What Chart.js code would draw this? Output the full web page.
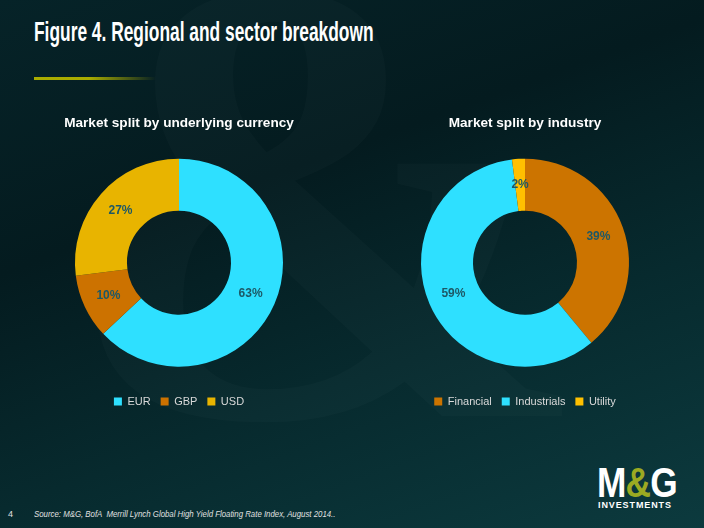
<!DOCTYPE html>
<html>
<head>
<meta charset="utf-8">
<script src="https://cdn.jsdelivr.net/npm/chart.js@4.4.0/dist/chart.umd.min.js"></script>
<style>
  html, body { margin: 0; padding: 0; }
  body { width: 704px; height: 528px; overflow: hidden; }
  #slide {
    position: relative; width: 704px; height: 528px; overflow: hidden;
    background: linear-gradient(160deg, #062328 0%, #041b1f 35%, #072a2e 65%, #0c3a3e 100%);
    font-family: "Liberation Sans", Arial, sans-serif;
  }
  #watermark {
    position: absolute; left: 60px; top: -120px;
    font: bold 640px "Liberation Serif", serif; color: #ffffff; opacity: 0.014;
    line-height: 1;
  }
  #title {
    position: absolute; left: 34px; top: 18px; margin: 0;
    font: bold 28px "Liberation Sans", Arial, sans-serif; line-height: 1;
    color: #ffffff; white-space: nowrap;
    transform: scaleX(0.62); transform-origin: 0 0;
  }
  #rule {
    position: absolute; left: 34px; top: 77px; width: 122px; height: 3px;
    background: linear-gradient(90deg, #a9ac00 0%, #a9ac00 45%, rgba(169,172,0,0) 100%);
  }
  .chartBox { position: absolute; top: 100px; width: 300px; height: 317px; }
  #boxLeft { left: 29px; }
  #boxRight { left: 375px; }
  #source {
    position: absolute; left: 34px; top: 509px; white-space: nowrap;
    font: italic 9px "Liberation Sans", Arial, sans-serif; color: #e0e0e0;
    transform: scaleX(0.87); transform-origin: 0 0;
  }
  #page {
    position: absolute; left: 8px; top: 509px;
    font: 9px "Liberation Sans", Arial, sans-serif; color: #e0e0e0;
  }
  #logo { position: absolute; left: 597px; top: 462px; width: 82px; color: #fff; }
  #logo .mg {
    font: bold 42px "Liberation Sans", Arial, sans-serif; line-height: 1; white-space: nowrap;
    transform: scaleX(0.84); transform-origin: 0 0; letter-spacing: -1px;
  }
  #logo .mg span { color: #9caa22; }
  #logo .inv {
    position: absolute; left: 1px; top: 38px; white-space: nowrap;
    font: bold 9px "Liberation Sans", Arial, sans-serif; letter-spacing: 0.9px;
  }
</style>
</head>
<body>
<div id="slide">
  <div id="watermark">&amp;</div>
  <h1 id="title">Figure 4. Regional and sector breakdown</h1>
  <div id="rule"></div>
  <div class="chartBox" id="boxLeft"><canvas id="currencyChart"></canvas></div>
  <div class="chartBox" id="boxRight"><canvas id="industryChart"></canvas></div>
  <div id="page">4</div>
  <div id="source">Source: M&amp;G, BofA &nbsp;Merrill Lynch Global High Yield Floating Rate Index, August 2014..</div>
  <div id="logo"><div class="mg">M<span>&amp;</span>G</div><div class="inv">INVESTMENTS</div></div>
</div>
<script>
const currencyLabels = ['EUR', 'GBP', 'USD'];
const currencyValues = [63, 10, 27];
const currencyColors = ['#2ee0ff', '#cc7200', '#e8b400'];

const industryLabels = ['Financial', 'Industrials', 'Utility'];
const industryValues = [39, 59, 2];
const industryColors = ['#cc7400', '#2ee0ff', '#ffc000'];

// percent labels in the middle of each ring segment
const ringLabels = {
    id: 'ringLabels',
    afterDatasetsDraw(chart) {
        const ctx = chart.ctx;
        const meta = chart.getDatasetMeta(0);
        const values = chart.data.datasets[0].data;
        ctx.save();
        ctx.font = 'bold 12px "Liberation Sans", Arial, sans-serif';
        ctx.fillStyle = '#1d5866';
        ctx.textAlign = 'center';
        ctx.textBaseline = 'middle';
        meta.data.forEach((arc, i) => {
            const p = arc.tooltipPosition();
            ctx.fillText(values[i] + '%', p.x, p.y);
        });
        ctx.restore();
    }
};

function makeDonut(id, titleText, labels, values, colors) {
    const ctx = document.getElementById(id).getContext('2d');
    return new Chart(ctx, {
        type: 'doughnut',
        data: {
            labels: labels,
            datasets: [{
                data: values,
                backgroundColor: colors,
                borderWidth: 0,
                radius: 104
            }]
        },
        options: {
            responsive: true,
            maintainAspectRatio: false,
            animation: false,
            cutout: '50%',
            layout: { padding: 0 },
            plugins: {
                title: {
                    display: true,
                    text: titleText,
                    color: '#ffffff',
                    font: { family: '"Liberation Sans", Arial, sans-serif', size: 13.6, weight: 'bold' },
                    padding: { top: 15, bottom: 8 }
                },
                legend: {
                    position: 'bottom',
                    labels: {
                        color: '#d9d9d9',
                        boxWidth: 8,
                        boxHeight: 8,
                        padding: 10,
                        font: { family: '"Liberation Sans", Arial, sans-serif', size: 11 }
                    }
                },
                tooltip: { enabled: false }
            }
        },
        plugins: [ringLabels]
    });
}

makeDonut('currencyChart', 'Market split by underlying currency', currencyLabels, currencyValues, currencyColors);
makeDonut('industryChart', 'Market split by industry', industryLabels, industryValues, industryColors);
</script>
</body>
</html>
